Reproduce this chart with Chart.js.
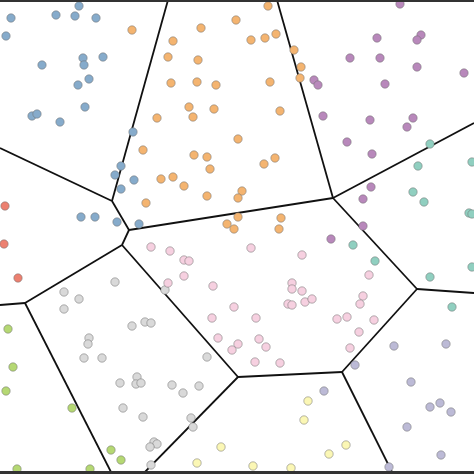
<!DOCTYPE html>
<html>
<head>
<meta charset="utf-8">
<script src="https://cdn.jsdelivr.net/npm/chart.js"></script>
<style>
  html, body { margin: 0; padding: 0; background: #fff; }
  #wrap { position: relative; width: 474px; height: 474px; }
  .bar { position: absolute; left: 0; width: 474px; background: #333; }
</style>
</head>
<body>
<div id="wrap">
  <canvas id="voronoi"></canvas>
  <div class="bar" style="top:0;height:2px"></div>
  <div class="bar" style="bottom:0;height:3px"></div>
</div>
<script>
// cluster points (x, y), y grows downward
const blue = [[79,6],[11,18],[56,15],[75,16],[96,18],[6,36],[83,58],[103,57],[42,65],[84,65],[89,79],[78,85],[85,107],[32,116],[37,114],[60,122],[133,132],[121,166],[115,175],[134,180],[121,189],[81,217],[95,217],[117,222],[139,224]];
const orange = [[132,30],[268,6],[236,20],[201,28],[173,41],[251,40],[265,38],[276,34],[294,50],[168,57],[198,60],[301,67],[300,78],[171,83],[197,82],[216,85],[270,82],[189,107],[214,109],[193,117],[157,118],[280,111],[238,139],[143,150],[194,155],[207,157],[275,158],[210,169],[264,164],[161,179],[173,177],[184,186],[207,196],[242,191],[238,198],[146,203],[238,217],[227,224],[234,229],[281,218],[279,229]];
const purple = [[400,4],[377,38],[421,35],[417,40],[350,58],[380,58],[417,67],[464,73],[314,80],[318,85],[385,84],[323,116],[370,120],[413,118],[407,127],[347,142],[372,154],[371,187],[363,199],[363,226],[331,239]];
const teal = [[430,144],[418,166],[472,162],[413,192],[424,202],[469,213],[472,214],[353,245],[375,261],[472,267],[430,277],[452,307]];
const red = [[5,206],[4,244],[18,278]];
const pink = [[151,247],[170,251],[184,260],[189,261],[251,248],[302,255],[184,276],[168,283],[213,286],[292,283],[292,289],[302,291],[288,304],[292,305],[305,302],[312,299],[234,307],[369,275],[363,296],[360,304],[212,318],[256,318],[218,338],[238,344],[232,350],[259,339],[266,347],[255,362],[280,363],[337,319],[347,317],[374,320],[359,332],[350,348]];
const gray = [[115,282],[64,292],[79,299],[64,309],[165,290],[132,326],[145,322],[151,323],[89,338],[88,344],[84,358],[102,358],[120,383],[137,377],[136,384],[141,383],[123,408],[143,417],[154,442],[157,444],[150,447],[151,465],[207,357],[172,385],[183,393],[199,386],[191,418],[193,427]];
const green = [[8,329],[13,367],[6,391],[72,408],[111,450],[121,460],[17,469],[90,469]];
const yellow = [[308,401],[304,420],[221,447],[197,463],[253,466],[291,468],[346,445],[329,454]];
const lavender = [[394,346],[446,344],[355,365],[324,391],[411,382],[430,407],[440,403],[451,412],[407,427],[441,455],[389,467]];

// voronoi cell boundaries, as segments [x1, y1, x2, y2]
const edges = [
  [168,0,112,201],[0,148,112,201],[112,201,129,230],[129,230,122,245],
  [129,230,333,198],[277,0,333,198],[333,198,474,123],[333,198,417,289],
  [417,289,474,293],[417,289,342,372],[342,372,238,377],[342,372,393,474],
  [238,377,122,245],[238,377,143,474],[122,245,25,303],[25,303,0,305],
  [25,303,112,474]
];

const clusters = [
  [blue, '#86abcb'], [orange, '#f4b470'], [purple, '#b888bb'], [teal, '#90cfc0'],
  [red, '#ec8070'], [pink, '#f6d0e0'], [gray, '#d9d9d9'], [green, '#b5d873'],
  [yellow, '#fbf7b5'], [lavender, '#bcbad6']
];

const toXY = pts => pts.map(p => ({x: p[0], y: p[1]}));

const datasets = [];
clusters.forEach(([pts, col]) => {
  datasets.push({
    type: 'scatter',
    data: toXY(pts),
    backgroundColor: col,
    borderColor: 'rgba(110,110,110,0.5)',
    borderWidth: 1,
    pointRadius: 4.2,
    order: 1,
  });
});
edges.forEach(e => {
  datasets.push({
    type: 'line',
    data: [{x: e[0], y: e[1]}, {x: e[2], y: e[3]}],
    borderColor: '#111',
    borderWidth: 1.8,
    pointRadius: 0,
    fill: false,
    order: 2,
  });
});

new Chart(document.getElementById('voronoi'), {
  type: 'scatter',
  data: { datasets },
  options: {
    responsive: true,
    maintainAspectRatio: false,
    animation: false,
    layout: { padding: 0, autoPadding: false },
    scales: {
      x: { type: 'linear', min: 0, max: 474, display: false },
      y: { type: 'linear', min: 0, max: 474, reverse: true, display: false },
    },
    plugins: {
      legend: { display: false },
      tooltip: { enabled: false },
    },
  },
});
</script>
</body>
</html>
